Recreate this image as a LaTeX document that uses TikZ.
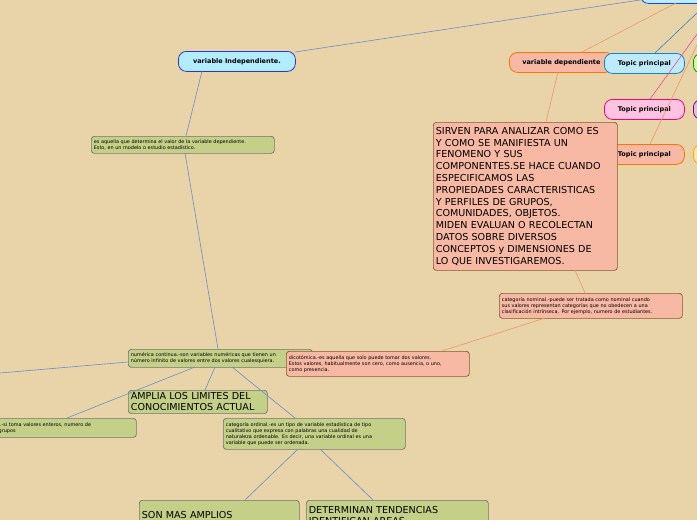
\documentclass[tikz,border=0pt]{standalone}
\usepackage{fontspec}
\setmainfont{DejaVu Sans}
\begin{document}
\begin{tikzpicture}[x=1pt,y=-1pt,
 box/.style={draw=#1,rounded corners=3pt,line width=0.7pt,inner sep=2.5pt,align=left,anchor=north west},
 small/.style={font=\fontsize{4.9}{6.2}\selectfont},
 pill/.style={draw=#1,rounded corners=8pt,line width=0.8pt,minimum height=20pt,font=\bfseries\fontsize{6.5}{7}\selectfont,anchor=north west},
 bl/.style={draw=lblue,line width=0.6pt},
 ol/.style={draw=lorange,line width=0.6pt}]
\definecolor{bg}{HTML}{E8D4A8}
\definecolor{salmonc}{HTML}{F8B9A4}
\definecolor{gfill}{HTML}{C4D088}
\definecolor{lblue}{HTML}{6A8FC8}
\definecolor{lorange}{HTML}{F0946A}
\tikzset{gbox/.style={box=black!55,fill=gfill},sbox/.style={box=brown!70!black,fill=salmonc}}
\useasboundingbox (0,0) rectangle (697,520);
\clip (0,0) rectangle (697,520);
\fill[bg] (0,0) rectangle (697,520);
% nodes
\node[pill=blue!70!cyan,fill=cyan!25,minimum width=70pt] (top) at (640,-17) {};
\node[pill=blue!60!gray,fill=blue!25!cyan!30,minimum width=117pt] (vi) at (178,51) {variable Independiente.};
\node[pill=orange!90!red,fill=salmonc,minimum width=104pt] (vd) at (509,52) {variable dependiente};
\node[pill=cyan!70!blue,fill=cyan!25,minimum width=80pt] (t1) at (604,53) {Topic principal};
\node[pill=magenta!80!red,fill=pink!80!magenta!60,minimum width=80pt] (t2) at (604,99) {Topic principal};
\node[pill=orange!90!red,fill=salmonc,minimum width=80pt] (t3) at (604,144) {Topic principal};
\node[pill=green!60!black,fill=green!40!yellow!40,minimum width=20pt] (c1) at (693,53) {};
\node[pill=violet,fill=violet!25,minimum width=20pt] (c2) at (693,99) {};
\node[pill=orange!70!yellow,fill=yellow!40!orange!30,minimum width=20pt] (c3) at (693,144) {};
\node[sbox,text width=179pt,font=\fontsize{9.6}{11.8}\selectfont,minimum height=148pt] (bb) at (433,122) {SIRVEN PARA ANALIZAR COMO ES\\Y COMO SE MANIFIESTA UN\\FENOMENO Y SUS\\COMPONENTES.SE HACE CUANDO\\ESPECIFICAMOS LAS\\PROPIEDADES CARACTERISTICAS\\Y PERFILES DE GRUPOS,\\COMUNIDADES, OBJETOS.\\MIDEN EVALUAN O RECOLECTAN\\DATOS SOBRE DIVERSOS\\CONCEPTOS y DIMENSIONES DE\\LO QUE INVESTIGAREMOS.};
\node[gbox,small,text width=178pt,minimum height=17pt] (def) at (91,136) {es aquella que determina el valor de la variable dependiente.\\Esto, en un modelo o estudio estadístico.};
\node[sbox,small,text width=178pt,minimum height=25pt] (nom) at (499,293) {categoría nominal.-puede ser tratada como nominal cuando\\sus valores representan categorías que no obedecen a una\\clasificación intrínseca. Por ejemplo, numero de estudiantes.};
\node[gbox,small,text width=179pt,minimum height=18pt] (num) at (128,349) {numérica continua.-son variables numéricas que tienen un\\número infinito de valores entre dos valores cualesquiera.};
\node[gbox,small,text width=178pt,minimum height=19pt] (dis) at (-47,418) {numérica discreta.-si toma valores enteros, numero de\\hijos, numero de grupos};
\node[gbox,small,text width=177pt,minimum height=31pt] (ord) at (223,418) {categoría ordinal.-es un tipo de variable estadística de tipo\\cualitativo que expresa con palabras una cualidad de\\naturaleza ordenable. Es decir, una variable ordinal es una\\variable que puede ser ordenada.};
\node[gbox,font=\fontsize{9.6}{11}\selectfont,text width=134pt] (amp) at (128,390) {AMPLIA LOS LIMITES DEL\\CONOCIMIENTOS ACTUAL};
\node[sbox,small,text width=178pt,minimum height=25pt] (dic) at (286,351) {dicotómica.-es aquella que solo puede tomar dos valores.\\Estos valores, habitualmente son cero, como ausencia, o uno,\\como presencia.};
\node[gbox,font=\fontsize{9.6}{11}\selectfont,text width=155pt,minimum height=30pt] (son) at (139,500) {SON MAS AMPLIOS};
\node[gbox,font=\fontsize{9.6}{11}\selectfont,text width=177pt,minimum height=30pt] (det) at (306,500) {DETERMINAN TENDENCIAS\\IDENTIFICAN AREAS};
\coordinate (lft) at (0,373);
% connectors
\draw[bl] (640,0) -- (295,52);
\draw[ol] (676,3) -- (582,52);
\draw[draw=cyan!60!blue,line width=0.5pt] (700,10) -- (655,53);
\draw[draw=magenta!80,line width=0.5pt] (700,30) -- (650,99);
\draw[ol] (697,45) -- (650,144);
\draw[bl] (202,71) -- (186,136);
\draw[bl] (185,153) -- (218,349);
\draw[ol] (558,72) -- (546,122);
\draw[ol] (575,270) -- (585,293);
\draw[ol] (545,318) -- (442,351);
\draw[bl] (128,362) -- (lft);
\draw[bl] (195,367) -- (67,418);
\draw[bl] (215,367) -- (205,390);
\draw[bl] (232,367) -- (295,418);
\draw[bl] (298,449) -- (245,500);
\draw[bl] (320,449) -- (373,500);
\end{tikzpicture}
\end{document}
